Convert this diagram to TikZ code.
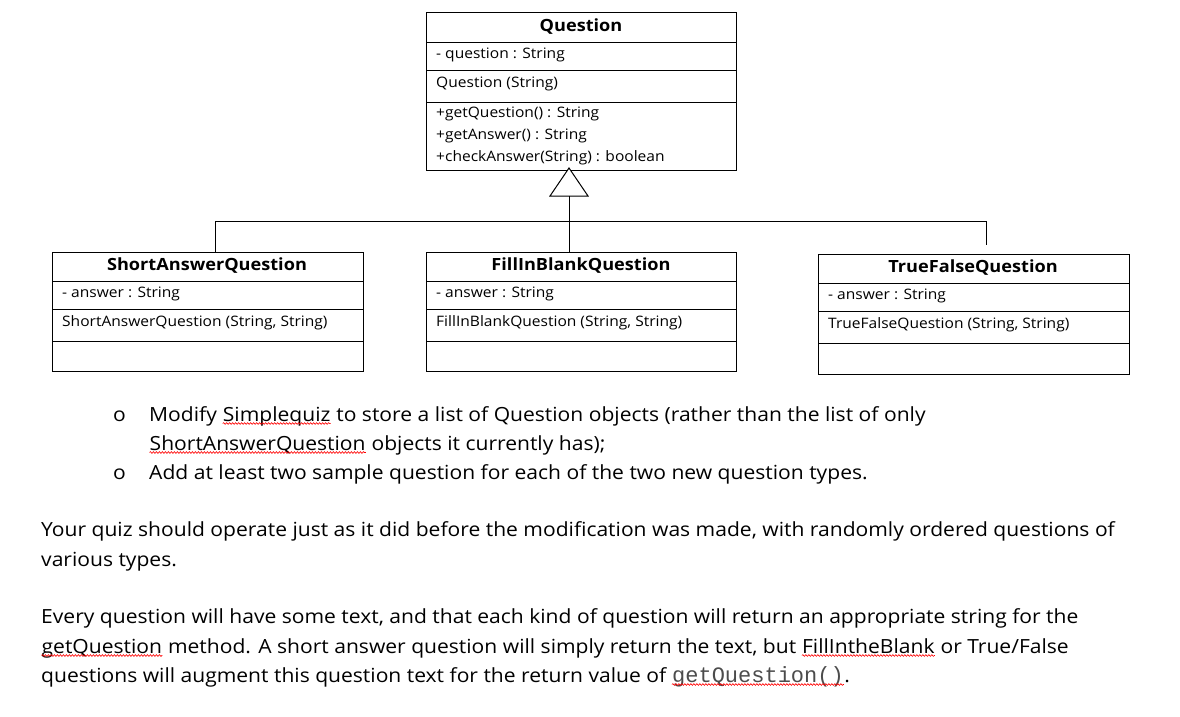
\documentclass[tikz,border=0pt]{standalone}
\usepackage{fontspec}
\setmainfont[FakeStretch=1.08]{Open Sans}
\newfontfamily\monof{Liberation Mono}
\usetikzlibrary{decorations.pathmorphing}
\newcommand\sq[1]{\tikz[baseline=(w.base)]{\node[inner sep=0pt,anchor=base,text width=,align=left](w){#1};\draw[red,line width=0.6pt,decorate,decoration={snake,amplitude=0.9pt,segment length=3pt}]([yshift=-2.5pt]w.base west)--([yshift=-2.5pt]w.base east);}}
\begin{document}
\begin{tikzpicture}[x=1pt,y=-1pt,
  box/.style={draw,line width=0.7pt},
  uml/.style={anchor=west,inner sep=0pt,font=\fontsize{14.4}{22}\selectfont},
  umlt/.style={inner sep=0pt,font=\fontsize{16.8}{19}\selectfont\bfseries},
  body/.style={anchor=base west,inner sep=0pt,font=\fontsize{19.5}{24}\selectfont},
  ln/.style={line width=1pt}]
\useasboundingbox (0,0) rectangle (1180,716);
% Question
\draw[box] (426,12) rectangle (736,170);
\draw[box] (426,42)--(736,42) (426,70)--(736,70) (426,102)--(736,102);
\node[umlt] (qt) at (581,27) {Question};
\node[uml] (qa) at (436,55) {- question : String};
\node[uml] (qc) at (436,84) {Question (String)};
\node[uml,align=left] (qm) at (436,136) {+getQuestion() : String\\+getAnswer() : String\\+checkAnswer(String) : boolean};
% inheritance
\coordinate (tip) at (569,168);
\draw[ln,fill=white] (tip)--(588,196)--(550,196)--cycle;
\draw[ln] (569,196)--(569,252);
\draw[ln] (215,221)--(986,221);
\draw[ln] (215,221)--(215,252);
\draw[ln] (986,221)--(986,245);
% ShortAnswer
\draw[box] (52,252) rectangle (363,371);
\draw[box] (52,281)--(363,281) (52,309)--(363,309) (52,341)--(363,341);
\node[umlt] (st) at (207,266) {ShortAnswerQuestion};
\node[uml] (sa) at (62,294) {- answer : String};
\node[uml] (sc) at (62,323) {ShortAnswerQuestion (String, String)};
% FillIn
\draw[box] (426,252) rectangle (736,371);
\draw[box] (426,281)--(736,281) (426,309)--(736,309) (426,341)--(736,341);
\node[umlt] (ft) at (581,266) {FillInBlankQuestion};
\node[uml] (fa) at (436,294) {- answer : String};
\node[uml] (fc) at (436,323) {FillInBlankQuestion (String, String)};
% TrueFalse
\draw[box] (818,254) rectangle (1129,374);
\draw[box] (818,283)--(1129,283) (818,311)--(1129,311) (818,343)--(1129,343);
\node[umlt] (tt) at (973,268) {TrueFalseQuestion};
\node[uml] (ta) at (828,296) {- answer : String};
\node[uml] (tc) at (828,325) {TrueFalseQuestion (String, String)};
% text
\node[body] (b1) at (113,421) {o};
\node[body] (b2) at (113,479) {o};
\node[body] (l1) at (149,421) {Modify \sq{Simplequiz} to store a list of Question objects (rather than the list of only};
\node[body] (l2) at (149,450) {\sq{ShortAnswerQuestion} objects it currently has);};
\node[body] (l3) at (149,479) {Add at least two sample question for each of the two new question types.};
\node[body] (p1) at (41,536) {Your quiz should operate just as it did before the modification was made, with randomly ordered questions of};
\node[body] (p2) at (41,566) {various types.};
\node[body] (p3) at (41,623) {Every question will have some text, and that each kind of question will return an appropriate string for the};
\node[body] (p4) at (41,653) {\sq{getQuestion} method. A short answer question will simply return the text, but \sq{FillIntheBlank} or True/False};
\node[body] (p5) at (41,682) {questions will augment this question text for the return value of \sq{{\monof\fontsize{22}{24}\selectfont\color{black!70}getQuestion()}}.};
\end{tikzpicture}
\end{document}
